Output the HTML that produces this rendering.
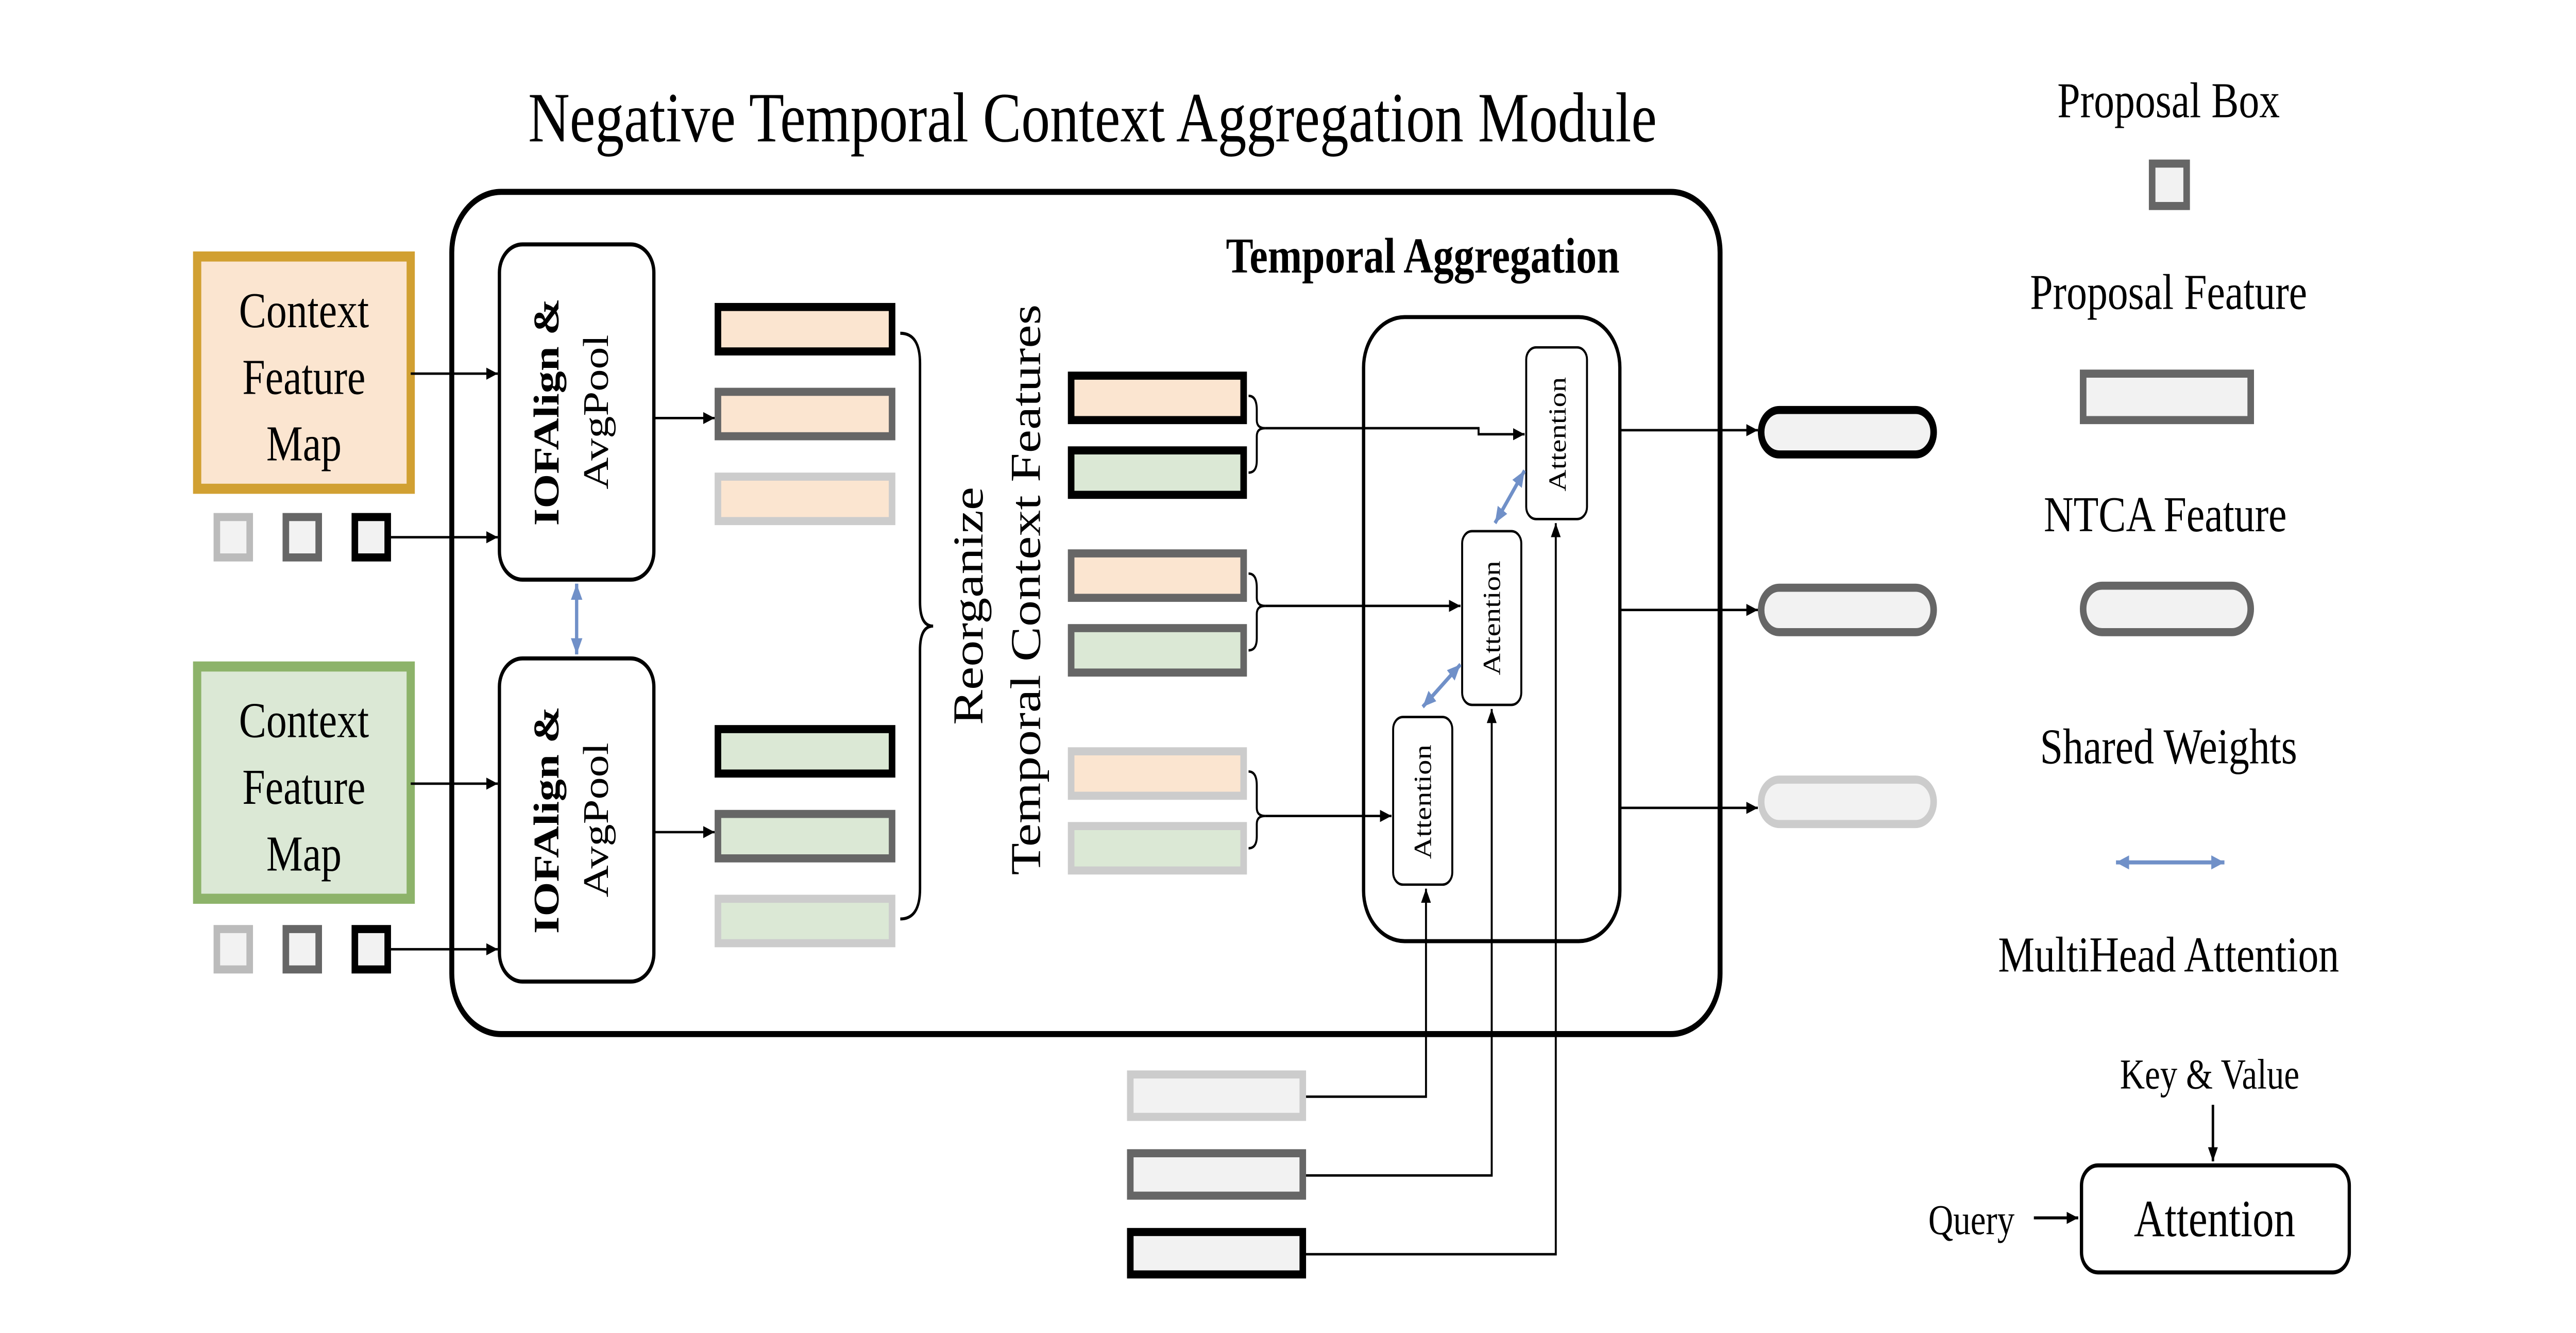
<!DOCTYPE html>
<html><head><meta charset="utf-8"><style>html,body{margin:0;padding:0;background:#fff;overflow:hidden;width:100%;height:100%}svg{display:block;width:100vw;height:100vh}</style></head>
<body>
<svg xmlns="http://www.w3.org/2000/svg" viewBox="0 0 1568 660" preserveAspectRatio="none" font-family="Liberation Serif, serif">
<defs>
<marker id="ar" markerWidth="8" markerHeight="8" refX="7" refY="4" orient="auto" markerUnits="userSpaceOnUse"><path d="M0,1 L7,4 L0,7 z" fill="#000"/></marker>
<marker id="bs" markerWidth="10" markerHeight="10" refX="8" refY="5" orient="auto-start-reverse" markerUnits="userSpaceOnUse"><path d="M0,1.5 L8,5 L0,8.5 z" fill="#7090c8"/></marker>
</defs>
<rect width="1568" height="660" fill="#fff"/>
<text x="665" y="70" font-size="35" text-anchor="middle">Negative Temporal Context Aggregation Module</text>
<rect x="275" y="95" width="772" height="417" rx="30" fill="none" stroke="#000" stroke-width="3"/>
<text x="866" y="135" font-size="25" font-weight="bold" text-anchor="middle">Temporal Aggregation</text>

<rect x="120" y="127" width="130" height="115" fill="#fbe5d0" stroke="#d1a032" stroke-width="5"/>
<text font-size="25" text-anchor="middle"><tspan x="185" y="162">Context</tspan><tspan x="185" y="195">Feature</tspan><tspan x="185" y="228">Map</tspan></text>
<rect x="120" y="330" width="130" height="115" fill="#dbe8d5" stroke="#8db36a" stroke-width="5"/>
<text font-size="25" text-anchor="middle"><tspan x="185" y="365">Context</tspan><tspan x="185" y="398">Feature</tspan><tspan x="185" y="431">Map</tspan></text>
<g fill="#f2f2f2" stroke-width="4">
<rect x="132" y="256" width="20" height="20" stroke="#bbb"/><rect x="174" y="256" width="20" height="20" stroke="#666"/><rect x="216" y="256" width="20" height="20" stroke="#000"/>
<rect x="132" y="460" width="20" height="20" stroke="#bbb"/><rect x="174" y="460" width="20" height="20" stroke="#666"/><rect x="216" y="460" width="20" height="20" stroke="#000"/>
</g>
<g stroke="#000" stroke-width="1.2" marker-end="url(#ar)">
<line x1="250" y1="185" x2="303" y2="185"/><line x1="238" y1="266" x2="303" y2="266"/>
<line x1="250" y1="388" x2="303" y2="388"/><line x1="238" y1="470" x2="303" y2="470"/>
<line x1="398" y1="207" x2="435" y2="207"/><line x1="398" y1="412" x2="435" y2="412"/>
</g>
<rect x="304" y="121" width="94" height="166" rx="14" fill="#fff" stroke="#000" stroke-width="2"/>
<rect x="304" y="326" width="94" height="160" rx="14" fill="#fff" stroke="#000" stroke-width="2"/>
<text font-size="22" text-anchor="middle" transform="translate(340,204) rotate(-90)" font-weight="bold">IOFAlign &amp;</text>
<text font-size="22" text-anchor="middle" transform="translate(370,204) rotate(-90)">AvgPool</text>
<text font-size="22" text-anchor="middle" transform="translate(340,406) rotate(-90)" font-weight="bold">IOFAlign &amp;</text>
<text font-size="22" text-anchor="middle" transform="translate(370,406) rotate(-90)">AvgPool</text>
<line x1="351" y1="289" x2="351" y2="324" stroke="#7090c8" stroke-width="2" marker-start="url(#bs)" marker-end="url(#bs)"/>
<g stroke-width="4">
<rect x="437" y="152" width="106" height="22" fill="#fbe5d0" stroke="#000"/>
<rect x="437" y="194" width="106" height="22" fill="#fbe5d0" stroke="#666"/>
<rect x="437" y="236" width="106" height="22" fill="#fbe5d0" stroke="#ccc"/>
<rect x="437" y="361" width="106" height="22" fill="#dbe8d5" stroke="#000"/>
<rect x="437" y="403" width="106" height="22" fill="#dbe8d5" stroke="#666"/>
<rect x="437" y="445" width="106" height="22" fill="#dbe8d5" stroke="#ccc"/>
</g>
<path d="M548,165 Q560,165 560,180 L560,298 Q560,310 568,310 Q560,310 560,322 L560,440 Q560,455 548,455" fill="none" stroke="#000" stroke-width="1.5"/>
<text font-size="26" text-anchor="middle" transform="translate(598,300) rotate(-90)">Reorganize</text>
<text font-size="26" text-anchor="middle" transform="translate(633,292) rotate(-90)">Temporal Context Features</text>
<g stroke-width="4">
<rect x="652" y="186" width="105" height="22" fill="#fbe5d0" stroke="#000"/>
<rect x="652" y="223" width="105" height="22" fill="#dbe8d5" stroke="#000"/>
<rect x="652" y="274" width="105" height="22" fill="#fbe5d0" stroke="#666"/>
<rect x="652" y="311" width="105" height="22" fill="#dbe8d5" stroke="#666"/>
<rect x="652" y="372" width="105" height="22" fill="#fbe5d0" stroke="#ccc"/>
<rect x="652" y="409" width="105" height="22" fill="#dbe8d5" stroke="#ccc"/>
</g>
<g fill="none" stroke="#000" stroke-width="1.2">
<path d="M760,196 Q765,196 765,203 L765,208 Q765,212 770,212 Q765,212 765,216 L765,228 Q765,234 760,234"/>
<path d="M760,284 Q765,284 765,291 L765,296 Q765,300 770,300 Q765,300 765,304 L765,316 Q765,322 760,322"/>
<path d="M760,382 Q765,382 765,389 L765,400 Q765,404 770,404 Q765,404 765,408 L765,414 Q765,420 760,420"/>
</g>
<g stroke="#000" stroke-width="1.2" marker-end="url(#ar)" fill="none">
<polyline points="770,212 900,212 900,215 928,215"/>
<polyline points="770,300 889,300"/>
<polyline points="770,404 847,404"/>
<line x1="986" y1="213" x2="1070" y2="213"/>
<line x1="986" y1="302" x2="1070" y2="302"/>
<line x1="986" y1="400" x2="1070" y2="400"/>
<polyline points="793,543 868,543 868,440"/>
<polyline points="793,582 908,582 908,351"/>
<polyline points="793,621 947,621 947,259"/>
</g>
<rect x="830" y="157" width="156" height="309" rx="25" fill="none" stroke="#000" stroke-width="2"/>
<g fill="#fff" stroke="#000" stroke-width="1.2">
<rect x="848" y="355" width="36" height="83" rx="6"/>
<rect x="890" y="263" width="36" height="86" rx="6"/>
<rect x="929" y="172" width="37" height="85" rx="6"/>
</g>
<text font-size="15" text-anchor="middle" transform="translate(871,397) rotate(-90)">Attention</text>
<text font-size="15" text-anchor="middle" transform="translate(913,306) rotate(-90)">Attention</text>
<text font-size="15" text-anchor="middle" transform="translate(953,215) rotate(-90)">Attention</text>
<g stroke="#7090c8" stroke-width="2" marker-start="url(#bs)" marker-end="url(#bs)">
<line x1="866" y1="350" x2="889" y2="329"/>
<line x1="910" y1="259" x2="928" y2="233"/>
</g>
<g fill="#f2f2f2" stroke-width="4">
<rect x="1072" y="203" width="105" height="22" rx="11" stroke="#000"/>
<rect x="1072" y="291" width="105" height="22" rx="11" stroke="#666"/>
<rect x="1072" y="386" width="105" height="22" rx="11" stroke="#ccc"/>
<rect x="688" y="532" width="105" height="21" stroke="#ccc"/>
<rect x="688" y="571" width="105" height="21" stroke="#666"/>
<rect x="688" y="610" width="105" height="21" stroke="#000"/>
</g>
<g font-size="25" text-anchor="middle">
<text x="1320" y="58">Proposal Box</text>
<text x="1320" y="153">Proposal Feature</text>
<text x="1318" y="263">NTCA Feature</text>
<text x="1320" y="378">Shared Weights</text>
<text x="1320" y="481">MultiHead Attention</text>
</g>
<rect x="1310" y="81" width="21" height="21" fill="#f2f2f2" stroke="#666" stroke-width="4"/>
<rect x="1268" y="185" width="102" height="23" fill="#f2f2f2" stroke="#666" stroke-width="4"/>
<rect x="1268" y="290" width="102" height="23" rx="11.5" fill="#f2f2f2" stroke="#666" stroke-width="4"/>
<line x1="1288" y1="427" x2="1354" y2="427" stroke="#7090c8" stroke-width="2" marker-start="url(#bs)" marker-end="url(#bs)"/>
<text x="1345" y="539" font-size="21" text-anchor="middle">Key &amp; Value</text>
<text x="1200" y="611" font-size="21" text-anchor="middle">Query</text>
<g stroke="#000" stroke-width="1.5" marker-end="url(#ar)">
<line x1="1347" y1="547" x2="1347" y2="575"/>
<line x1="1238" y1="603" x2="1265" y2="603"/>
</g>
<rect x="1267" y="577" width="163" height="53" rx="10" fill="#fff" stroke="#000" stroke-width="2"/>
<text x="1348" y="612" font-size="26" text-anchor="middle">Attention</text>
</svg>
</body></html>
